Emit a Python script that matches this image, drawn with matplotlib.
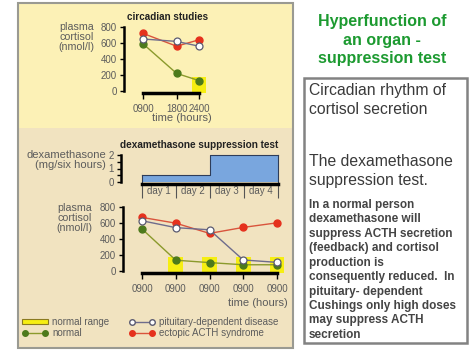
import matplotlib
matplotlib.use('Agg')
import matplotlib.pyplot as plt
from matplotlib.patches import Rectangle, Patch
from matplotlib.lines import Line2D

plt.rcParams['font.family'] = ['Liberation Sans', 'DejaVu Sans']

W, H = 474, 355

# circadian studies (hours after 0900)
circ_hours = [0, 9, 15]
circ_labels = ['0900', '1800', '2400']
circ_normal = [590, 220, 130]
circ_pituitary = [650, 620, 560]
circ_ectopic = [720, 560, 640]
circ_range_hours = [15]
range_low, range_high = -20, 170

# dexamethasone dose (mg / six hours), one value per day
dex_days = [0, 1, 2, 3, 4]
dex_dose = [0.5, 0.5, 2, 2, 2]
day_labels = ['day 1', 'day 2', 'day 3', 'day 4']

# suppression test, one sample per day at 0900
sup_x = [0, 1, 2, 3, 4]
sup_labels = ['0900', '0900', '0900', '0900', '0900']
sup_normal = [525, 135, 105, 78, 78]
sup_pituitary = [628, 542, 515, 138, 108]
sup_ectopic = [670, 598, 470, 545, 602]
sup_range_x = [1, 2, 3, 4]

# colours
TXT = '#5c5c5c'
C_YEL = '#f6ee12'
C_RED_M, C_RED_L = '#e5311d', '#d9543c'
C_GRN_M, C_GRN_L = '#4d7a1c', '#8b9a2c'
C_PIT_E, C_PIT_L = '#5a5a70', '#6e6c8c'

fig = plt.figure(figsize=(W / 100, H / 100), dpi=100)
fig.patch.set_facecolor('white')


def px_axes(x0, x1, y0, y1):
    return fig.add_axes([x0 / W, 1 - y1 / H, (x1 - x0) / W, (y1 - y0) / H])


# background / text layer in pixel coordinates
bg = fig.add_axes([0, 0, 1, 1])
bg.set_xlim(0, W)
bg.set_ylim(H, 0)
bg.axis('off')
bg.add_patch(Rectangle((18, 3), 275, 125, facecolor='#fcf1b6', edgecolor='none'))
bg.add_patch(Rectangle((18, 128), 275, 220, facecolor='#f1e3c0', edgecolor='none'))
bg.add_patch(Rectangle((18, 3), 275, 345, facecolor='none', edgecolor='#9a9a92', lw=1.5))
bg.add_patch(Rectangle((304, 78), 163, 265, facecolor='white', edgecolor='#828282', lw=1.8))

bg.text(382, 40, 'Hyperfunction of\nan organ -\nsuppression test', ha='center', va='center',
        fontsize=11.5, fontweight='bold', color='#1c9a30', linespacing=1.33)
bg.text(309, 83, 'Circadian rhythm of\ncortisol secretion', ha='left', va='top',
        fontsize=11.3, color='#3a3a3a', linespacing=1.3)
bg.text(309, 154, 'The dexamethasone\nsuppression test.', ha='left', va='top',
        fontsize=11.3, color='#3a3a3a', linespacing=1.3)
bg.text(309, 199, 'In a normal person\ndexamethasone will\nsuppress ACTH secretion\n(feedback) and cortisol\n'
        'production is\nconsequently reduced.  In\npituitary- dependent\nCushings only high doses\n'
        'may suppress ACTH\nsecretion', ha='left', va='top',
        fontsize=8.5, fontweight='bold', color='#444444', linespacing=1.27)

# chart labels
bg.text(94, 37, 'plasma\ncortisol\n(nmol/l)', ha='right', va='center', fontsize=7.7,
        color=TXT, linespacing=0.95)
bg.text(212, 118, 'time (hours)', ha='right', va='center', fontsize=8, color=TXT)
bg.text(106, 160, 'dexamethasone\n(mg/six hours)', ha='right', va='center', fontsize=8,
        color=TXT, linespacing=0.95, multialignment='right')
bg.text(92, 218, 'plasma\ncortisol\n(nmol/l)', ha='right', va='center', fontsize=7.7,
        color=TXT, linespacing=0.95)
bg.text(288, 303, 'time (hours)', ha='right', va='center', fontsize=8, color=TXT)


def style_cortisol(ax, xpos, xmax):
    ax.set_facecolor('none')
    for s in ['top', 'right']:
        ax.spines[s].set_visible(False)
    ax.spines['left'].set_position(('data', xpos))
    ax.spines['left'].set_bounds(0, 800)
    ax.spines['left'].set_linewidth(1.8)
    ax.spines['bottom'].set_position(('data', -28))
    ax.spines['bottom'].set_bounds(0, xmax)
    ax.spines['bottom'].set_linewidth(2.5)
    ax.set_yticks([0, 200, 400, 600, 800])
    ax.tick_params(axis='y', length=3, width=1, pad=2, labelsize=7, labelcolor=TXT)
    ax.tick_params(axis='x', length=4, width=1, pad=4, labelsize=7, labelcolor=TXT)


def plot_series(ax, x, normal, pit, ect):
    ax.plot(x, normal, '-o', color=C_GRN_L, mfc=C_GRN_M, mec=C_GRN_M, ms=5, lw=1, zorder=3)
    ax.plot(x, pit, '-o', color=C_PIT_L, mfc='white', mec=C_PIT_E, ms=5, lw=1, mew=0.9, zorder=4)
    ax.plot(x, ect, '-o', color=C_RED_L, mfc=C_RED_M, mec=C_RED_M, ms=5, lw=1, zorder=3)


# circadian studies
ax1 = px_axes(120.6, 217.7, 22.2, 95.8)
ax1.set_xlim(-6, 20)
ax1.set_ylim(-60, 860)
style_cortisol(ax1, -5.1, 15)
ax1.set_xticks(circ_hours)
ax1.set_xticklabels(circ_labels)
ax1.bar(circ_range_hours, range_high - range_low, bottom=range_low, width=4,
        color=C_YEL, zorder=1)
plot_series(ax1, circ_hours, circ_normal, circ_pituitary, circ_ectopic)
ax1.set_title('circadian studies', fontsize=7.1, fontweight='bold', color='#222222',
              pad=1, x=0.48)

# dexamethasone dose
ax2 = px_axes(114.8, 284.8, 149.6, 187.4)
ax2.set_xlim(-0.8, 4.2)
ax2.set_ylim(-0.4, 2.4)
ax2.set_facecolor('none')
for s in ['top', 'right']:
    ax2.spines[s].set_visible(False)
ax2.spines['left'].set_position(('data', -0.62))
ax2.spines['left'].set_bounds(0, 2)
ax2.spines['left'].set_linewidth(1.8)
ax2.spines['bottom'].set_position(('data', -0.12))
ax2.spines['bottom'].set_bounds(0, 4)
ax2.spines['bottom'].set_linewidth(2.5)
ax2.fill_between(dex_days, 0, dex_dose, step='post', color='#79a6de', lw=0)
ax2.step(dex_days, dex_dose, where='post', color='#2e3d5a', lw=0.8)
ax2.plot([0, 0], [0, dex_dose[0]], color='#2e3d5a', lw=0.8)
ax2.plot([4, 4], [0, dex_dose[-1]], color='#2e3d5a', lw=0.8)
ax2.set_yticks([0, 1, 2])
ax2.set_yticks([0.5, 1.5], minor=True)
ax2.tick_params(axis='y', which='both', length=3, width=1, pad=2, labelsize=7, labelcolor=TXT)
ax2.set_xticks(dex_days)
ax2.set_xticklabels([])
ax2.set_xticks([0.5, 1.5, 2.5, 3.5], minor=True)
ax2.set_xticklabels(day_labels, minor=True)
ax2.tick_params(axis='x', which='major', length=10, width=0.8, color='#555555')
ax2.tick_params(axis='x', which='minor', length=0, pad=2, labelsize=7, labelcolor=TXT)
ax2.set_title('dexamethasone suppression test', fontsize=7.2, fontweight='bold',
              color='#222222', pad=1, x=0.495)

# suppression test
ax3 = px_axes(118.4, 290.5, 202.2, 275.8)
ax3.set_xlim(-0.7, 4.4)
ax3.set_ylim(-60, 860)
style_cortisol(ax3, -0.56, 4)
ax3.set_xticks(sup_x)
ax3.set_xticklabels(sup_labels)
ax3.bar(sup_range_x, range_high - range_low, bottom=range_low, width=0.44,
        color=C_YEL, zorder=1)
plot_series(ax3, sup_x, sup_normal, sup_pituitary, sup_ectopic)

# legend
handles = [
    Patch(facecolor=C_YEL, edgecolor='#8a7a20', lw=0.8),
    Line2D([], [], color=C_GRN_L, marker='o', mfc=C_GRN_M, mec=C_GRN_M, ms=4, lw=1),
    Line2D([], [], color=C_PIT_L, marker='o', mfc='white', mec=C_PIT_E, ms=4, lw=1),
    Line2D([], [], color=C_RED_L, marker='o', mfc=C_RED_M, mec=C_RED_M, ms=4, lw=1),
]
labels = ['normal range', 'normal', 'pituitary-dependent disease', 'ectopic ACTH syndrome']
leg = fig.legend(handles, labels, ncol=2, loc='upper left', bbox_to_anchor=(22 / W, 1 - 317 / H),
                 frameon=False, fontsize=7, numpoints=2, handlelength=2.7, handleheight=0.5,
                 handletextpad=0.4, columnspacing=2.0, labelspacing=0.15, borderpad=0,
                 borderaxespad=0)
for t in leg.get_texts():
    t.set_color(TXT)

fig.savefig('out.png', dpi=100, facecolor='white')
